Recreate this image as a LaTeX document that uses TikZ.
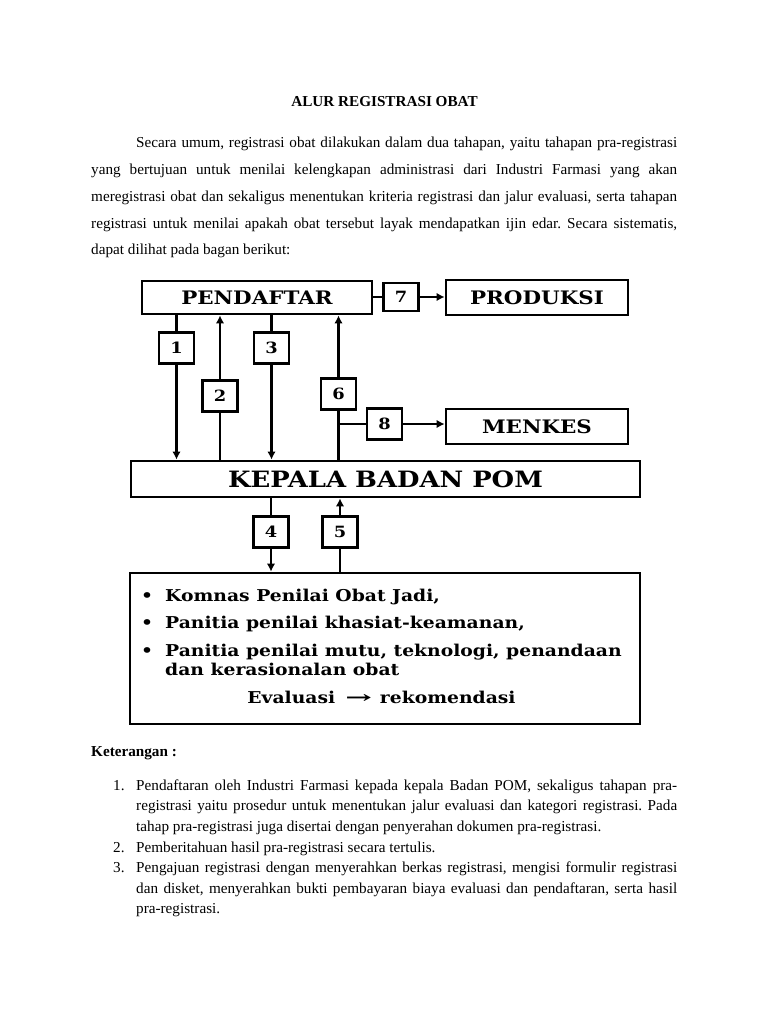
\documentclass[tikz,border=0pt]{standalone}
\usepackage{fontspec}
\usepackage{graphicx}
\setmainfont{Liberation Serif}
\newfontfamily\diafont[FakeStretch=1.15]{DejaVu Serif}
\usetikzlibrary{arrows.meta}
\frenchspacing
\tikzstyle{bigbox} = [rectangle, draw=black, line width=2.8pt, inner sep=0pt, font=\diafont\bfseries\fontsize{18.6}{21}\selectfont]
\tikzstyle{numbox} = [rectangle, draw=black, line width=2.8pt, minimum width=35pt, minimum height=31pt, inner sep=0pt, font=\diafont\bfseries\fontsize{15.5}{18}\selectfont]
\tikzstyle{plaintext} = [inner sep=0pt, font=\fontsize{15.2}{26.7}\selectfont]
\tikzstyle{link} = [line width=2.8pt]
\tikzstyle{arrow} = [line width=2.8pt,-{Latex[length=8pt,width=8.5pt]}]
\begin{document}
\begin{tikzpicture}[x=1pt,y=-1pt]
\useasboundingbox (0,0) rectangle (768,1024);

% Text above
\node (judul) [plaintext, anchor=base, font=\bfseries\fontsize{15.2}{18}\selectfont] at (384.5,107) {ALUR REGISTRASI OBAT};
\node (intro) [plaintext, anchor=base west] at (91,148) {\parbox[t]{586pt}{\hyphenpenalty=10000 \exhyphenpenalty=10000
\hspace*{45pt}Secara umum, registrasi obat dilakukan dalam dua tahapan, yaitu tahapan pra-registrasi\linebreak
yang bertujuan untuk menilai kelengkapan administrasi dari Industri Farmasi yang akan\linebreak
meregistrasi obat dan sekaligus menentukan kriteria registrasi dan jalur evaluasi, serta tahapan\linebreak
registrasi untuk menilai apakah obat tersebut layak mendapatkan ijin edar. Secara sistematis,\linebreak
dapat dilihat pada bagan berikut:}};

% Nodes
\node (pendaftar) [bigbox, minimum width=230pt, minimum height=33pt] at (257,297.5) {PENDAFTAR};
\node (n7) [numbox, minimum height=28pt] at (401,297) {7};
\node (produksi) [bigbox, minimum width=182pt, minimum height=35pt] at (537,297.5) {PRODUKSI};
\node (menkes) [bigbox, minimum width=182pt, minimum height=35pt] at (537,426.5) {MENKES};
\node (kepala) [bigbox, minimum width=509pt, minimum height=36pt, font=\diafont\bfseries\fontsize{22.5}{25}\selectfont] at (385.5,479) {KEPALA BADAN POM};
\node (evalbox) [bigbox, minimum width=510pt, minimum height=151pt] at (385,648.5) {};
\node (n1) [numbox] at (176.5,348) {1};
\node (n2) [numbox] at (220,396) {2};
\node (n3) [numbox] at (271.5,348) {3};
\node (n6) [numbox] at (338.5,394) {6};
\node (n8) [numbox] at (384.5,424) {8};
\node (n4) [numbox] at (271,532) {4};
\node (n5) [numbox] at (340,532) {5};
\node (komnas) [anchor=base west, inner sep=0pt, font=\diafont\bfseries\fontsize{16.3}{18.3}\selectfont] at (141,601.7) {\parbox[t]{560pt}{\makebox[24pt][l]{•}Komnas Penilai Obat Jadi,\\[8.4pt]
\makebox[24pt][l]{•}Panitia penilai khasiat-keamanan,\\[10pt]
\makebox[24pt][l]{•}Panitia penilai mutu, teknologi, penandaan\\
\hspace*{24pt}dan kerasionalan obat}};
\node (rekom) [anchor=base, inner sep=0pt, font=\diafont\bfseries\fontsize{16.3}{18.3}\selectfont] at (381.5,703.3) {Evaluasi\hspace{10pt}\scalebox{1.7}[1.05]{→}\hspace{8pt}rekomendasi};
\coordinate (split8) at (n6 |- n8);

% Arrows
\draw [link] (pendaftar.east |- n7) -- (n7);
\draw [arrow] (n7) -- (n7 -| produksi.west);
\draw [link] (n1 |- pendaftar.south) -- (n1);
\draw [arrow] (n1) -- (n1 |- kepala.north);
\draw [link] (n2 |- kepala.north) -- (n2);
\draw [arrow] (n2) -- (n2 |- pendaftar.south);
\draw [link] (n3 |- pendaftar.south) -- (n3);
\draw [arrow] (n3) -- (n3 |- kepala.north);
\draw [link] (n6 |- kepala.north) -- (n6);
\draw [arrow] (n6) -- (n6 |- pendaftar.south);
\draw [link] (split8) -- (n8);
\draw [arrow] (n8) -- (n8 -| menkes.west);
\draw [link] (n4 |- kepala.south) -- (n4);
\draw [arrow] (n4) -- (n4 |- evalbox.north);
\draw [link] (n5 |- evalbox.north) -- (n5);
\draw [arrow] (n5) -- (n5 |- kepala.south);

% Keterangan
\node (ket) [plaintext, anchor=base west, font=\bfseries\fontsize{15.2}{18}\selectfont] at (91,756) {Keterangan :};
\node (item1) [plaintext, anchor=base west, font=\fontsize{15.2}{20.6}\selectfont] at (113,790) {\makebox[23pt][l]{1.}\parbox[t]{541pt}{\hyphenpenalty=10000 \exhyphenpenalty=10000
Pendaftaran oleh Industri Farmasi kepada kepala Badan POM, sekaligus tahapan pra-\linebreak
registrasi yaitu prosedur untuk menentukan jalur evaluasi dan kategori registrasi. Pada\linebreak
tahap pra-registrasi juga disertai dengan penyerahan dokumen pra-registrasi.}};
\node (item2) [plaintext, anchor=base west, font=\fontsize{15.2}{20.6}\selectfont] at (113,852) {\makebox[23pt][l]{2.}Pemberitahuan hasil pra-registrasi secara tertulis.};
\node (item3) [plaintext, anchor=base west, font=\fontsize{15.2}{20.6}\selectfont] at (113,872.6) {\makebox[23pt][l]{3.}\parbox[t]{541pt}{\hyphenpenalty=10000 \exhyphenpenalty=10000
Pengajuan registrasi dengan menyerahkan berkas registrasi, mengisi formulir registrasi\linebreak
dan disket, menyerahkan bukti pembayaran biaya evaluasi dan pendaftaran, serta hasil\linebreak
pra-registrasi.}};

\end{tikzpicture}
\end{document}
